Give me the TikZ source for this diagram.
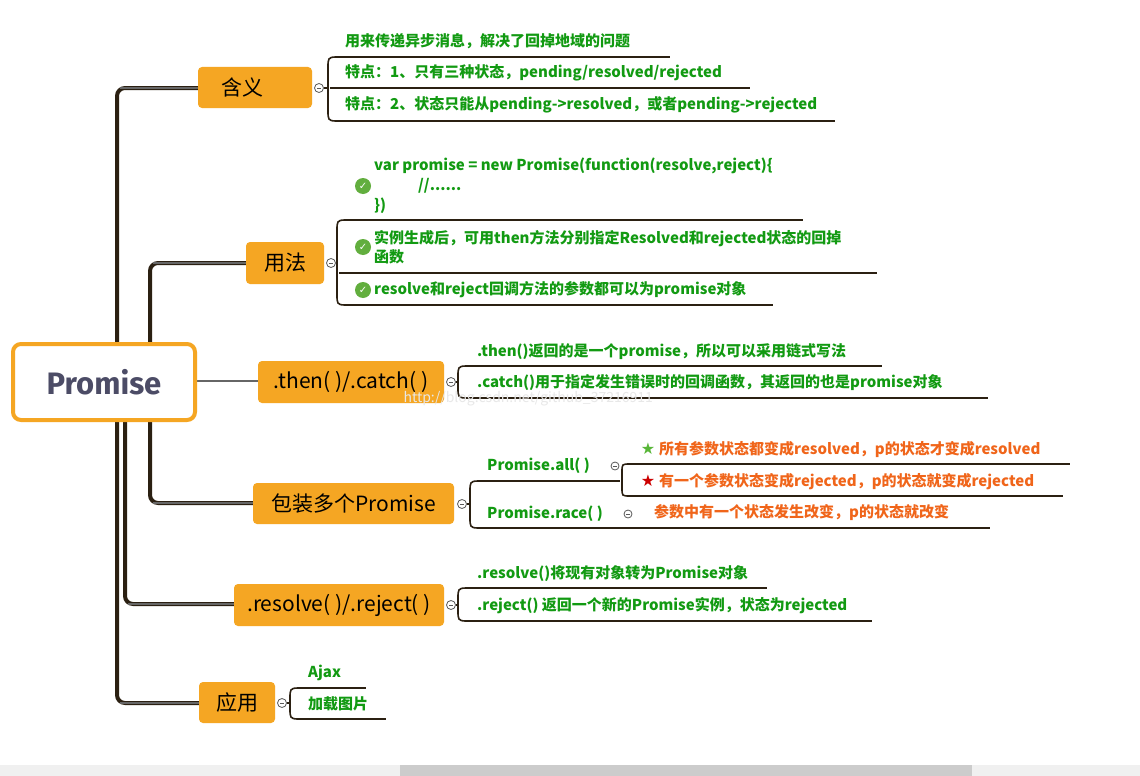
\documentclass[tikz,border=0pt]{standalone}
\usepackage{fontspec}
\setmainfont{Noto Sans CJK SC}
\newfontfamily\titlefont{Fira Sans}
\newfontfamily\symfont{DejaVu Sans}
\definecolor{org}{HTML}{F5A623}
\definecolor{grn}{HTML}{129A12}
\definecolor{otx}{HTML}{F0651A}
\definecolor{trunk}{HTML}{2B2012}
\definecolor{chk}{HTML}{62AE3E}
\tikzset{
 topic/.style={fill=org,rounded corners=4pt,inner sep=0pt,font=\fontsize{21}{24}\selectfont,text=black},
 leaf/.style={anchor=west,inner sep=0pt,text=grn,font=\fontsize{15}{18}\selectfont\bfseries},
 oleaf/.style={leaf,text=otx},
 tline/.style={draw=trunk,line width=4pt,rounded corners=8pt},
 hline/.style={draw=gray!80!black,line width=1.2pt},
 uline/.style={draw=trunk,line width=1.6pt},
 knob/.style={circle,draw=gray!70!black,fill=white,minimum size=9pt,inner sep=0pt,line width=0.8pt,path picture={\draw[gray!70!black,line width=0.6pt] ([xshift=-2.2pt]path picture bounding box.center) -- ([xshift=2.2pt]path picture bounding box.center);}},
 chkmark/.style={circle,fill=chk,minimum size=16pt,inner sep=0pt,text=white,font=\symfont\fontsize{10}{10}\selectfont\bfseries}
}
\newcommand\brk[5]{% bx, yT, yB, ymid, knobname
 \draw[uline] (#1+8,#2) .. controls (#1,#2) and (#1,#2+2) .. (#1,#2+10) -- (#1,#3-10) .. controls (#1,#3-2) and (#1,#3) .. (#1+8,#3);
 \draw[uline] (#5.east) -- (#1,#4);
}
\begin{document}
\begin{tikzpicture}[x=1pt,y=-1pt]
\useasboundingbox (0,0) rectangle (1140,776);
\fill[white] (0,0) rectangle (1140,776);
\fill[gray!12] (0,765) rectangle (1140,776);
\fill[gray!40] (400,765) rectangle (972,776);
% trunk
\draw[tline] (198,88) -- (117,88) -- (117,703) -- (199,703);
\draw[hline] (198,88) -- (120,88); \draw[hline] (199,703) -- (120,703);
\draw[tline] (246,263) -- (150,263) -- (150,503) -- (253,503);
\draw[hline] (246,263) -- (153,263); \draw[hline] (253,503) -- (153,503);
\draw[tline] (125,420) -- (125,604) -- (234,604);
\draw[hline] (234,604) -- (128,604);
\draw[hline] (196,381) -- (258,381);
% root
\node[draw=org,line width=4pt,fill=white,rounded corners=8pt,minimum width=182pt,minimum height=76pt,font=\titlefont\fontsize{31}{34}\selectfont\bfseries,text=black!75!blue!40!gray] (root) at (104,382) {Promise};
% topics
\node[topic,minimum width=114pt,minimum height=41pt] (t1) at (255,87.5) {含义\hspace*{26pt}};
\node[topic,minimum width=78pt,minimum height=42pt] (t2) at (285,263) {用法};
\node[topic,minimum width=186pt,minimum height=42pt] (t3) at (351,382) {.then( )/.catch( )};
\node[topic,minimum width=201pt,minimum height=41pt] (t4) at (353.5,503.5) {包装多个Promise};
\node[topic,minimum width=210pt,minimum height=42pt] (t5) at (339,605) {.resolve( )/.reject( )};
\node[topic,minimum width=76pt,minimum height=41pt] (t6) at (237,702.5) {应用};
% knobs
\node[knob] (k1) at (319,88) {};
\node[knob] (k2) at (331,263) {};
\node[knob] (k3) at (451,382) {};
\node[knob] (k4) at (462,504) {};
\node[knob] (k5) at (451,605) {};
\node[knob] (k6) at (282,703) {};
% group 1
\brk{328}{57}{121}{88}{k1}
\draw[uline] (336,57) -- (670,57); \draw[uline] (330,88) -- (750,88); \draw[uline] (336,121) -- (835,121);
\node[leaf] (a1) at (345,41) {用来传递异步消息，解决了回掉地域的问题};
\node[leaf] (a2) at (345,73) {特点：1、只有三种状态，pending/resolved/rejected};
\node[leaf] (a3) at (345,105) {特点：2、状态只能从pending->resolved，或者pending->rejected};
% group 2
\brk{337}{220}{305}{263}{k2}
\draw[uline] (345,220) -- (803,220); \draw[uline] (339,273) -- (877,273); \draw[uline] (345,305) -- (773,305);
\node[chkmark] (c1) at (363,186) {✓};
\node[leaf] (b1) at (374,166) {var promise = new Promise(function(resolve,reject)\{};
\node[leaf] (b2) at (418,186) {//......};
\node[leaf] (b3) at (374,206) {\})};
\node[chkmark] (c2) at (363,247) {✓};
\node[leaf,align=left,font=\fontsize{15}{19}\selectfont\bfseries] (b4) at (374,247) {实例生成后，可用then方法分别指定Resolved和rejected状态的回掉\\函数};
\node[chkmark] (c3) at (363,290) {✓};
\node[leaf] (b5) at (374,290) {resolve和reject回调方法的参数都可以为promise对象};
% group 3
\brk{458}{366}{398}{382}{k3}
\draw[uline] (466,366) -- (882,366); \draw[uline] (466,398) -- (988,398);
\node[leaf] (d1) at (477,352) {.then()返回的是一个promise，所以可以采用链式写法};
\node[leaf] (d2) at (477,383) {.catch()用于指定发生错误时的回调函数，其返回的也是promise对象};
\node[anchor=west,text=gray!18,font=\fontsize{14}{15}\selectfont] (wm) at (400,399) {http://blog.csdn.net/github\_37216911};
% group 4
\brk{470}{481}{528}{504}{k4}
\draw[uline] (478,481) -- (620,481); \draw[uline] (478,528) -- (990,528);
\node[leaf] (e1) at (487,466) {Promise.all( )};
\node[leaf] (e2) at (487,514) {Promise.race( )};
\node[knob,minimum size=8pt] (k7) at (615,466) {};
\node[knob,minimum size=8pt] (k8) at (628,514) {};
\draw[uline] (630,464) .. controls (622,464) .. (622,472) -- (622,488) .. controls (622,496) .. (630,496);
\draw[uline] (630,464) -- (1070,464); \draw[uline] (630,496) -- (1063,496);
\node[anchor=center,text=chk!90!green,font=\symfont\fontsize{16}{16}\selectfont] (s1) at (648,449) {★};
\node[oleaf] (f1) at (659,450) {所有参数状态都变成resolved，p的状态才变成resolved};
\node[anchor=center,text=red!80!black,font=\symfont\fontsize{16}{16}\selectfont] (s2) at (648,481) {★};
\node[oleaf] (f2) at (659,482) {有一个参数状态变成rejected，p的状态就变成rejected};
\node[oleaf] (f3) at (654,513) {参数中有一个状态发生改变，p的状态就改变};
% group 5
\brk{458}{588}{621}{605}{k5}
\draw[uline] (466,588) -- (767,588); \draw[uline] (466,621) -- (872,621);
\node[leaf] (g1) at (477,574) {.resolve()将现有对象转为Promise对象};
\node[leaf] (g2) at (477,606) {.reject() 返回一个新的Promise实例，状态为rejected};
% group 6
\brk{290}{688}{719}{703}{k6}
\draw[uline] (298,688) -- (366,688); \draw[uline] (298,719) -- (386,719);
\node[leaf] (h1) at (308,673) {Ajax};
\node[leaf] (h2) at (308,704) {加载图片};
\end{tikzpicture}
\end{document}
